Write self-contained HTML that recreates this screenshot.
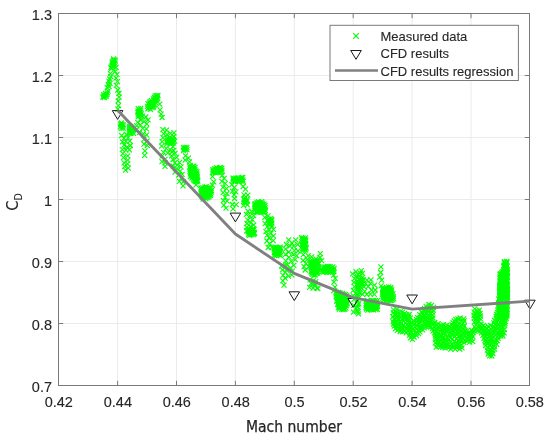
<!DOCTYPE html>
<html><head><meta charset="utf-8"><style>
html,body{margin:0;padding:0;background:#fff;}
body{width:550px;height:441px;overflow:hidden;position:relative;}
svg{position:absolute;left:0;top:0;}
text{font-family:"Liberation Sans",Arial,sans-serif;fill:#262626;}
.mk{fill:none;stroke:none;marker-start:url(#xm);marker-mid:url(#xm);marker-end:url(#xm);}
</style></head><body>
<svg width="550" height="441" viewBox="0 0 550 441">
<defs><marker id="xm" markerUnits="userSpaceOnUse" markerWidth="8" markerHeight="8" refX="4" refY="4" overflow="visible">
<path d="M1.5 1.5L6.5 6.5M1.5 6.5L6.5 1.5" stroke="#00ff00" stroke-width="1.1" fill="none"/></marker></defs>
<g stroke="#ebebeb" stroke-width="1">
<line x1="117.6" y1="13.5" x2="117.6" y2="385.5"/>
<line x1="176.5" y1="13.5" x2="176.5" y2="385.5"/>
<line x1="235.4" y1="13.5" x2="235.4" y2="385.5"/>
<line x1="294.3" y1="13.5" x2="294.3" y2="385.5"/>
<line x1="353.2" y1="13.5" x2="353.2" y2="385.5"/>
<line x1="412.1" y1="13.5" x2="412.1" y2="385.5"/>
<line x1="471.0" y1="13.5" x2="471.0" y2="385.5"/>
<line x1="58.5" y1="75.5" x2="529.5" y2="75.5"/>
<line x1="58.5" y1="137.5" x2="529.5" y2="137.5"/>
<line x1="58.5" y1="199.5" x2="529.5" y2="199.5"/>
<line x1="58.5" y1="261.5" x2="529.5" y2="261.5"/>
<line x1="58.5" y1="323.5" x2="529.5" y2="323.5"/>
</g>
<polyline class="mk" points="105.6,93.3 105,96.4 108,91.2 107.4,92.8 103.7,94.7 106.9,94.7 105.5,95 102.8,97.2 103.6,96.1 106.3,96.2 104.2,97.5 110,83.3 109.1,86.7 109.7,79.2 110.8,76.7 108.2,84.5 107.2,87.7 110.4,73.7 109,81.3 111.8,66.2 113.6,59 113.7,61.9 112.9,67.2 113.2,65.8 111.4,68.7 114.9,63.1 112.6,64.5 115.2,61.2 112.2,63.2 114.9,59.8 110.9,67.4 113.5,60.4 114.3,64.7 112.3,61.7 113.6,63.6 116.3,85.4 115.1,71.5 117.8,90 118.5,105.6 118.2,101 116.1,67.3 116,78.1 118.9,93.5 119.1,97.1 117,74.4 117.4,81.7 117.9,109.2 123.4,124.8 121.4,123 120.4,126.9 121.2,128.4 120.5,124.1 121.2,125.4 123,126.9 123.1,128.3 122.1,124.3 130.6,130.1 129.7,132.6 129.4,127.6 132.5,132.2 133.2,130.5 130.6,128.4 132.1,128 130.8,126.3 131.1,133 133.5,133.4 129.5,131 133.1,128.9 129.4,129 131.3,131.4 129.3,126.1 131.8,129.5 124.1,145.2 128.1,137.7 126,141.4 124.1,162.9 127.7,155.8 127.5,163.8 123.5,157.7 126.5,134.5 130.4,145.5 125.8,150.2 122.9,153.7 125.5,170.2 123.9,138.4 122.4,141.8 130.2,133.4 122.3,149.6 129.4,149.9 121.6,135.5 127.7,160.1 129.8,141.2 128.3,168.1 124.7,166.4 127.2,147 140.4,112.5 137.9,112.6 138.1,114.8 140.5,110.3 140.6,108.5 141.1,113.6 138.3,108.6 140.9,115.1 139.1,110.4 139.2,113.2 139.5,114.8 138,111.2 136.8,129.4 144.1,121.6 146.8,123.9 140.5,124.8 143.3,133.9 137.7,122.3 146.4,128.8 138.4,116.5 142.7,128.3 139.6,132.7 142.3,116.1 146.7,134.9 145.8,117 140.6,120 148.1,119.8 136.7,125.9 144,144.2 144.6,155.4 144.9,150.9 143.9,139.4 147.3,145.5 147,141.1 148.6,107.6 153.4,98.8 156.6,95.9 148.9,104.9 151,106.7 152.7,104.1 155,98.8 155.3,100.3 151.9,102.5 150.3,104.5 153.8,100.6 157.4,98.7 153.9,102.8 151.5,100.6 149.6,103 154.5,97.5 154.1,105.7 152.2,107.7 157.4,97.1 150.3,109.3 148,103.7 150.1,101.7 152.6,105.5 157.9,95.5 147.6,106.4 147.8,108.9 155.5,102.4 149.9,105.8 154.5,104.3 155.2,95.9 156.2,97.9 156.7,100 153.5,107 150.1,107.9 160.1,109.9 161.1,114.1 159.7,104.1 162.1,117.5 165,166.4 165.3,162.8 165,159.3 167.8,153.2 170.5,133.4 166.9,142 166.2,148.3 169.8,137.4 161.6,146.2 163.5,152.3 163,137.6 174.8,141.2 163.7,133.8 173.7,136.5 173,146.6 170.2,143.7 162.9,129.7 173.7,150.7 166.5,130.2 162.1,141.7 170.1,149.7 162.2,155.8 167.1,134.6 173.9,132.9 162,161.6 172.2,138.5 172,140.5 171.4,142.1 168.1,141.8 167.5,138.9 171.4,143.5 167.5,140.3 170.8,139 173.1,143 169.2,142.8 173.2,141.5 169,139.9 173.2,139.7 169.9,141 167.4,143.3 169,138.6 181.3,178.2 173.2,166.2 177.4,165.2 183,185.8 175.1,153.3 183.3,181.9 171.7,155.9 176.7,157.3 173,159.5 176.9,168.7 180.1,171.1 175.1,172 178.8,175 171.8,151.9 179.5,162.4 179.4,181.3 182.2,174.3 174.8,162.8 181,166.9 184,149.3 185.8,148.5 185.4,149.9 187,149.6 183.4,147.7 184.9,147.4 186.8,147.3 183.5,150.7 185.5,155.8 189.5,161.8 185.2,160.1 188.4,158.2 192.7,174.7 197,174.9 191.9,177.8 189.8,166.8 195.4,176.5 190.9,172.7 190.7,170 194.2,174.1 196,170.9 197,171.9 195.2,178.4 190,171.3 196.1,180.2 193.8,166.1 194.9,169.5 193.5,168.1 191.2,167.7 194.1,177.1 194.1,180.5 192.4,172.2 192.3,176.4 194.1,170.6 193.3,179.1 197.3,177 195,167.3 191.1,175 194.7,172.7 195.6,174.1 192.5,166.7 192,170.8 190.1,168.6 190.3,173.9 196.9,178.5 190.4,176.6 196.9,181.5 191.9,169.3 190.4,165.6 195.4,181.5 196.8,173.4 193.8,175.7 193.3,169.5 197.4,179.9 196,184.9 197.8,181.2 210.4,195.5 206.2,192.5 202.5,189.6 203.2,199.1 211.1,192 202.2,191.3 203.1,196.3 205.5,189.9 205.5,196.1 203.9,190.2 204.4,188.3 207.2,189.1 204.3,195.2 208.1,194.3 204.6,193.4 209.9,190.3 207.8,192.7 206.7,194.8 204,191.7 201.7,194.5 206.5,197.2 201.3,193 208.5,191.5 209.1,196.9 209.2,187.9 206.5,186.9 202.5,197.6 202.7,187.6 205.9,198.6 201,189.7 210.7,193.8 208.4,190.1 206.9,191 202.9,193.7 210.7,188.7 204.8,197.6 209,195.4 205,187 201,188 211.5,190.5 207.8,187.8 207.8,197.7 209.5,193 205.9,188.4 207.3,196.2 201.7,196 205.4,191.3 215.9,168.9 222,170.4 218.2,170.6 221.9,168.4 214.5,168.9 216.1,171.3 217.7,168.6 219.4,168 220.2,171.7 214.3,171.5 220.4,169.7 212.9,169.6 218.2,172.3 216.7,167.7 215,170.4 218.8,169.4 215.3,172.5 217,169.7 213.2,172.5 221.6,171.8 220.7,167.5 216.9,172.5 213,171 213.7,181.8 212.5,176.7 212.4,185.1 223.1,192.6 225.2,183.3 225.2,197.3 224.2,178.4 223.8,205.1 227.1,201.1 223,187.3 226.5,188.6 226,208.2 222.2,175.3 226.9,193.5 223.4,200.5 221.9,181.4 232.4,191.2 231.8,184.7 235.1,181.9 234.3,187.5 234.5,198.5 236.2,204.6 233,208.8 234.2,194.9 235.9,191.8 233.9,178.6 232.4,204.5 241.6,181.1 234.6,178.8 239.6,178.6 236.9,180.3 238.6,179.8 240.3,180.3 241.6,179 237.2,178.6 233.5,181.4 233,178.1 238.2,181.2 235.5,180.9 242.7,177.5 241.2,177.7 233.2,179.8 235.8,178.2 242.9,179.8 243.1,181.3 238.5,177.8 239.6,181.5"/>
<polyline class="mk" points="247.1,200.8 244,194.9 243.6,205.4 243.8,199.1 245.5,189.1 247.8,195.2 247.4,204.8 243.1,186.5 246.8,199.3 245.9,203 244.3,199.8 245,198.1 244.3,202.6 246,201.4 244.5,201.2 250,215.9 252.2,219.6 246.7,227.3 247.8,220.1 250.9,231.1 254,229.2 247.9,211.2 250.4,226.5 246.4,214.4 246.7,230.8 251.6,211.5 253.6,225 250.6,222.8 247,223.5 253.6,215.7 254.4,233.1 250.2,231.4 250.2,233.9 254.1,232.1 251.7,234.6 253.2,230.8 251.1,230.2 248.5,234.7 251.6,232.6 249,232.9 252.9,233.3 249.4,229.7 253.6,234.7 248.1,230.5 249.8,235.4 253.8,229.6 254.4,233.6 248,231.9 252.4,229.5 261.7,201.6 256.9,210.9 265.1,207.8 263.1,205.7 262.3,207.5 259.2,209.2 261,211.2 260.2,206.1 264.2,209.7 261.8,209.4 262.2,203.1 264.8,212 262.6,210.9 258.6,206 258.5,211 259.2,207.3 255.8,207 255.7,205 261.1,204 259.5,203.9 263.7,208.4 257.5,207 255.1,210.1 265,205.5 258.5,202 257.4,203.8 263.4,212.4 259.8,202.4 255.9,203.6 261.7,205.6 256.3,212.1 259.6,211.9 262,212.1 264,204.2 256.4,208.4 257.5,209.5 265.4,210.5 260.9,207.9 264.3,206.7 255,208.5 257.4,205.3 257,202.3 262.7,204.4 257.8,212.3 258.2,208.3 260.4,209.8 254.6,204.2 254.8,206.1 271.7,226.1 264.8,217.3 273.3,240.7 271,220.5 270.9,233.3 267.3,226.6 269.6,243.6 266,231.6 267.2,220.3 269.2,238 267.1,235.1 272,247.3 268,215.8 266.9,241 268.8,223.4 269.3,229.8 273.5,229.4 265.2,223.6 273.4,235.9 268.2,247.5 271.7,220.7 270.5,218.6 270.9,224.3 270,223.2 269.7,220.2 269.1,221.8 270.7,221.7 268.7,219.2 269.1,224.4 271.7,223.1 271.7,219.3 274.6,255.5 275.1,251.3 274,247.7 279.2,254.7 278.9,251.9 277.5,247.9 274.9,253.8 277.2,253 279,247.7 276.9,250.1 277.5,254.6 280,253.1 274.2,249.8 280.3,248.7 276.1,248.2 278.4,250 280.2,251.3 276.7,251.5 276.3,255.4 278.5,253.5 274.4,252.5 275.6,249.7 280.4,255.5 280.3,247.2 275.2,247.1 279.8,250 275.8,252.7 290.5,267.8 291.8,274.8 295.2,259.6 287.4,264.8 290,246.1 291.2,261.4 288.7,252 285.8,260.9 286.4,244.5 297.7,244.5 294.3,250.7 286.5,270 291.8,242.8 288.9,257.1 288.4,276.1 293.8,265.3 295.7,239.8 293.6,246.2 298,251 293.4,254.4 285.6,254.4 296.7,255.7 288.7,239.8 292.2,271.1 285.6,249.1 283,275.4 282.7,280.9 284,285.1 281.6,266 282.4,269.9 285.4,265.2 285.3,272.1 285.1,278.2 303.9,245.8 304.1,249.3 304.6,248 303.5,243.4 305.7,240 305.5,237.8 302.8,248.7 305.6,243.3 305.6,245 302.5,245.3 302.1,243.8 302.6,242.3 305.4,250 302,239.2 305.2,241.4 303.2,247.3 304.4,239.5 303.2,238.1 303,240.6 306.1,247.3 301.7,237.6 304,242.1 302.7,250.1 306,248.7 317,271.9 303.1,260.5 309.1,266.9 313.5,263.3 303.3,254.6 311.6,256.9 311.1,271.9 313.5,266.9 307.3,259.3 305.9,263.6 304,266.6 308.2,255.7 305.2,270 316,258.9 317.4,266.3 309.9,263.3 317,262.4 311.2,283.5 313.1,288.1 315,283.9 310.1,279.8 309.5,287.4 317,288.1 313.6,280.6 318.3,266.6 317.5,271.6 315.2,260.3 317.6,260.6 313.5,265.3 313.8,272.2 314,275.1 315.5,262.9 315.9,269.2 311.4,263.7 314.9,266.6 312.5,266.2 311.7,262.1 311.8,273.1 314.1,262.1 311.6,270.3 312,268.1 317.1,265.4 315.5,264.6 317.8,262.4 313.7,273.7 313.1,261.1 317,263.7 312.3,274.3 316.4,273.5 313.4,270.5 315,268.2 315.2,271.8 313.6,268.4 312.8,263.7 315.3,274.8 311.5,265.2 317.3,268 317.6,269.9 318.4,264 311,267.2 317.7,273.2 314.6,269.7 312.1,271.7 316.3,261.2 316.3,266.9 314.2,263.5 316.3,270.8 310.6,261.2 312.6,269.4 318.4,268.8 313.6,267 314.8,285.5 315.9,281.7 317.9,288.6 320,257.5 321.7,260.6 320.3,253.6 329.3,270.7 326.3,267.7 333.7,271.6 332.8,266.9 330.2,269.5 330.1,272.1 328.7,266.8 323.7,268.6 325.1,266.8 325.2,271.9 324.6,270.4 326.8,269.1 328.3,268.2 323.7,267.1 331.4,271.1 331,267.8 328.2,271.9 322.6,271.5 325.4,269 334.1,268.3 327.7,270.6 332.2,269.4 333.8,270 326.7,272.4 322.7,269.9 323.8,272.2 332.4,272.2 326.3,270.9 327.3,266.5 330.1,266.7 333.5,275.2 333.9,282.2 334.9,287.2 335.3,278.4 333.7,290.7 336.8,295.3 346.4,305.7 341.3,302.2 338.8,305.9 342,297.9 339.1,300 342.1,305.4 336.6,301.1 342.6,299.5 344.4,298.1 342.9,301.2 344,308.1 338.7,296.1 345.4,294.7 345.8,304.4 347,302.3 340,304.5 342.6,307.6 338.1,302.8 344.5,300.6 337.4,293.1 341,307.4 343,295.5 337.1,298.8 342.4,303.4 340,293 343.5,304.5 345.3,302.9 346.4,298.4 340,294.7 340.3,297.8 340.8,300.7 338.4,307.6 339.3,309.2 345.9,308.2 345.8,301 337.4,297.3 344.8,306.6 342.5,293.3 339.8,303.1 343.8,302.8 341.6,294.5 337.6,304.7 338.4,294.3 339.6,301.7 345.7,296.8 347,299.8 343.1,309.5 344.5,295.9 341.2,299.2 336.1,292.1 341.7,309.2 338.2,301.2 344,294.1 344.8,309.4 341,296.2 343.1,297.1 346.7,295.7 345.5,299.5 338.6,298.3 343.4,306.1 340.4,305.9 336.2,293.8 336.1,296.7 338.6,292.4 339.7,307 344.7,305.2 338.7,304 347.1,303.7 354.5,286.7 356.1,308.4 357.8,301 354,299.4 354.5,278.7 358.3,311.7 355.8,293.4"/>
<polyline class="mk" points="358.1,304.8 356.8,275.9 355.9,271.7 353.8,305.3 357.3,281.1 357.9,288.7 353.9,282.4 356.8,296.9 352.6,273.8 353.5,312.1 353.3,290.3 357.7,285.2 353.1,295.7 361,282.3 360.2,289.3 360,272.8 357.7,277.6 361,280.1 357.7,294.2 362.5,277.3 360.4,287 358,284 358.1,291.2 362.4,273.4 359.6,276.1 358.1,287 360.1,284.3 359.8,292.9 358.8,279.9 363.4,279.8 358.4,296.4 357.9,274.4 361.3,270.7 362.3,284.3 357.6,289.1 357.6,281.7 374.5,285.2 364.8,291.4 371.5,290 370.5,294.1 370.5,283.3 364.1,286.9 375.2,290 362.1,280.2 366.9,280.1 374.3,294.4 368.2,286.5 362.3,283.7 370.9,279.8 365.7,283.6 362.6,294.3 366.8,294.4 381.7,280.1 380.9,266.8 380.7,272.5 381.1,285.8 379.7,277.1 390.6,299 385,291.5 389.1,290.6 385.2,288.1 385.6,290.1 389,288.5 387.6,289 386.6,291 384.1,294.7 388.7,286.8 385.8,297.9 389.2,295.2 387,292.9 392.4,295.1 385,296 385.6,293.2 387.4,299.3 392.1,297.7 388,296.8 391.5,291.2 391,296.8 389.9,297.7 392.9,299.6 383.8,288.3 384.8,299.4 386.7,294.2 383.7,290.3 390,292.1 383.1,296.1 384.5,297.4 391.4,292.8 390.3,294.2 386.6,287.5 382.7,293 388.2,294.1 383.3,300.1 388.8,299 390.6,288.8 393.3,296.6 382.9,298.4 386.4,295.7 388,291.8 383,291.6 390.9,287.4 392.9,293.7 382.6,294.4 390.3,300.5 386.4,300.3 391.6,289.8 384.2,293 393.5,298.4 382.5,289 387.3,298 388.8,300.4 391.7,300.3 387.8,295.4 389,292.9 369.9,301.3 366.3,303.5 375.4,307.3 368.2,301.7 375.1,302.4 366.9,306.1 375.8,309.4 374.2,308.4 370.8,305.6 368.7,303.2 366.3,309 377,304.8 371.3,302.2 372.2,303.6 368.6,308.4 371.7,309.5 370.3,309.6 370.7,308.2 377.3,300.6 372.3,300.6 373.4,309.8 371.6,306.8 377.5,306.4 374.8,304.4 374.5,306.2 373,307.1 375.2,300.6 368.2,307 370.7,304.2 373.1,301.9 366.2,307.4 369.8,306.7 376.6,302.2 368.5,304.8 376.8,307.9 367.7,310.2 373.2,305.7 377.2,309.3 366.4,301.3 376,305.8 367.6,300.5 373.4,304.2 376,303.5 372,305.1 372.8,308.5 377.5,303.4 366.1,305 370.1,302.7 373.7,300.6 357.6,307 358.5,313.8 358.8,303.7 357.3,300.1 357,310.5 458,318.9 400.2,331.5 464.5,340.2 422.7,314 425.5,313.3 437.5,335.8 457,321.3 481.2,324.1 476,324.8 416.1,333.4 476.4,318.6 498,320.5 429,321.8 416.3,321.9 489,336.9 504.8,306.4 500.3,280.2 488.7,330.6 498.1,338.3 490.8,352.3 480.2,313.4 452.4,338.8 463.2,323.3 452.5,344.8 455.4,333.7 459.2,332.6 436.8,331.7 438.6,346.2 404.6,330.9 476.9,310.6 439.8,330.9 404.4,318.6 419.1,320.1 400.1,317.6 425.2,324.6 484,338.3 505.9,300.8 486.9,338 441,340.1 492.7,342.3 474.3,322.1 438.1,323.6 408.1,329.7 504.6,283.3 442.7,341.8 394.3,314.7 454.3,341.5 422.5,321.4 454.3,321 455.4,344.7 481.3,326.7 447.1,344 461.2,321 479.3,310.2 435,329.8 492.4,333.9 394.2,326.2 467.9,335.4 415,327.1 446.9,331.2 507.3,293.4 447.4,337.6 490.5,349.6 479.9,331.2 412.3,323.1 458.9,335.9 398.7,328.7 432.5,315.2 421.5,312 411.6,335.9 414.1,330.2 404.6,313.3 462,347.9 491.1,329.1 443.7,328.8 398.4,319.2 428.1,317.8 460.6,327.3 407.7,318.5 458.1,340.7 471.8,334.4 426,319.2 496.4,322.4 401.4,315.6 488.4,343.1 413.1,334.2 499.8,313.2 431.9,320.1 443.3,324.6 465.1,330.7 449.1,326 400.4,321.2 504.3,275.9 437.6,338.6 428.8,307.2 471.5,338.3 409.2,314.5 410.4,318.2 479,321.3 497.5,326.1 500.6,302.1 499.3,316.2 440.7,344.5 459.9,330.2 417.9,330.7 478.6,327.4 434,326.8 450.5,342.3 498.6,335.5 416.8,325.5 420.1,329.1 502.4,274.5 396.3,325.3 408.8,326.5 504.4,312.5 432.5,312.2 461.4,324.6 503.5,279.6 411.2,326.7 504.8,325.6 439.4,342.1 430.6,327.1 456.4,338.8 505.4,291.8 449.2,330 506.6,309.2 445.3,327 500.3,326.7 488.1,326.4 475.7,329 420.2,323.2 462.4,331.2 500.3,322.1 451.7,335.2 497.7,333 394,319.1 441.1,335.5 435.6,337.2 425.8,310.5 421.9,325.1 424.2,327.9 505.5,303.8 451.5,328 456.8,347.6 490.4,338.9 448.8,340.2 403.7,321.1 503.1,292.7 462.7,338.3 467.3,338.4 504.7,289 492.4,347.3 498.7,307.1 502.4,308.5 436.2,347.1 484.1,333 459.3,346.5 434.5,332.9 489.9,345.8 489.6,355.9 410.9,330.8 501.1,276.4 500.3,309.2 504.3,329.5 453.8,331.8 492.9,339.9 503.5,296.7 494.4,344.4 403.3,325.2 494.5,320.4 485.7,342.8 432.1,323.1 501.2,299 431,313.8 429.1,312 504.2,266.4 458.4,328.4 404.7,327.4 502.3,316.6 475.7,313.9 481.3,329 485.6,345.5 435.3,342.9 496,316.4 409.5,321.3 472.7,336.5 487.2,328.5 501.2,306.4 450,337 489.5,341.2 502,329.7 463.5,333.5 506.5,268.6 400.4,311.6 402,329.3 478.7,317.4 505.3,321.3 449.2,334.3 442.9,326.7 445.8,334.5 409.9,332.8 395.7,317.8 503,336.1 502,284.3 491,335.8 431.4,305.5 492.2,331.7 505.9,263.9 467,341 460.3,339 423.7,318.7 474.2,312.2 457.1,325.4 460.9,341.7 437.1,341.7 416.5,335.7 495.9,330.2 450.8,349.2 469,332 484.7,327.4 507.2,287 455.4,323.3 463.8,342.3 455.6,330.2 501,289.4 452.1,324.7 495.6,339.3 466.2,333.4 506.8,266.4 450.9,332.8 413.6,320.6 395.2,322.4"/>
<polyline class="mk" points="502.9,281.7 446.5,341.2 412.4,339.3 487.6,347.4 393.6,309.9 437.6,329.2 505.6,316.3 426.4,321.5 506.5,296.3 485,340.7 493.8,322.9 444.4,345.7 490.7,343.8 499.6,291.9 457.6,334.1 428.7,315 485.2,336 494.5,349.2 501.2,294.5 505.6,279.8 505.2,271.8 500.6,317.9 464.4,326 439.7,328.1 402.6,331.8 503.8,301.6 426.1,306.3 399,315.2 500.3,296.5 448.2,347.7 405.6,323.1 463.3,328.8 504.1,332.8 402.2,319.2 396.9,311.9 469.6,339.4 434.8,322.5 463.7,318.8 497.9,328.4 437.2,344.1 400.4,325.5 476.7,321.6 493.4,337.2 452.1,346.9 477.5,330.9 501.7,286.7 461.5,345.2 422.6,329.9 442.8,347.4 450.1,346 503.4,314.8 395.4,328.8 486.4,332.2 420.1,317.4 501.6,324 495.4,324.5 428.2,326.5 497.4,340.6 487.3,350.2 506.2,318.7 405.9,316.9 419.8,331.8 454.9,336.2 441.2,325.3 454.8,326.1 497.6,312.5 504.5,261.7 427.3,324.4 495.7,335 493.3,326.6 507,274.4 414.1,337 465,336.6 492.8,353.5 498.5,305 432.6,328.6 474.3,318 402.5,312.1 488.3,354 426.1,317 473,332.5 494.5,333 482.9,335.4 485.2,330.3 422.4,316.9 428.9,304.5 495,342.2 443.8,333.5 506.5,314.1 429.7,319.5 419.5,326.5 507.1,289.8 459.7,349.1 457.1,343.1 498.4,324 424.4,308.3 441.8,332.7 496.8,344.4 479.1,325 480.4,318.8 461.2,334.6 498.8,299 431.3,308.7 440.4,337.5 438.2,326.5 502.1,334 393.6,324 458.6,323.7 398.4,324 474.8,326.9 407.1,324.8 489.5,333.3 474.1,315.5 507,284.3 469.7,342.2 443.7,331 443.5,336.8 503.9,269.6 502.7,271.9 502.1,311.4 443.1,339 421.9,327.5 433.2,310.1 472.8,341.7 472,330.4 502.4,327.1 481.5,332.8 429,309.6 446.6,346.2 490.6,325.5 409.8,323.9 495.1,327.6 482.8,330.9 414.6,324.1 397.4,321.5 430.5,317.1 455.1,349.2 406.2,332.8 504.1,318 505.1,286.4 492.7,350.6 416.5,319.7 478.3,314.5 406.7,314.6 474.7,308.8 444.9,342.5 506.8,261.5 460.1,318 423.7,311.1 446.8,325.3 506.9,298.8 493.8,329.8 502.2,319.5 499.2,330.8 470.2,336.4 402.2,327.1 498.4,302.8 504.5,298.7 426,326.6 474.6,330.8 487.5,334.3 500,285.4 457.8,330.9 506.9,276.6 433.5,307.4 429.5,324 445.6,339 448,328.1 435.7,339.5 445.2,347.9 487.2,341.2 496.5,314.3 442.9,344.1 507.1,281.9 436.1,325.4 438.1,333.6 396.9,309.4 491.8,356 499.7,287.6 419.7,314.7 427,308.4 396.6,314.5 503.2,304.3 505,323.5 393.3,312.7 417.6,317.7 500,283.2 497.8,310.1 501.6,331.8 407.4,321 502.6,321.7 505.1,294.6 433.4,324.7 412.2,329.1 424.4,315.5 464.1,320.9 496.3,318.6 424.3,322.5 500.8,336.2 432.9,318 494.4,346.6 451.9,330.7 392.8,316.6 441.8,329.9 480.4,316 483.6,325.3 401.1,323.4 456.3,327.8 478.2,312.3 397.3,330.3 504.4,310.1 453.8,328.1 454.7,346.7 476.7,316.5 459.3,343.8 488.6,351.9 500.3,273.9 393.1,321.8 435.3,335 467.3,330.7 416.9,328.8 506.9,305.7 461.1,336.7 452.9,322.7 410,328.8 440.6,346.9 500,333.6 506.3,311.4 397,327.3 507.3,272.2 455.8,319.4 406.9,327.8 397.8,317.1 409.6,335.2 418.5,333.6 421.2,319.7 433.1,330.8 469.6,334.1 410.4,337.9 417.9,323.6 408.7,316.6 403.8,316.2 498.5,318.4 505.2,280.8 499.7,300.6 500.5,278.3 499.7,285.1 505.5,277.6 502.2,316 506.3,275.3 500.5,282.4 507.1,299.1 505.3,266.1 503.2,310.4 504.6,307.2 501.8,300 507.1,309.6 500.4,316.8 501.2,303.4 502.6,298.5 502.1,285.7 506.1,294.1 506.1,271 501,275.6 503.6,285.9 502.6,304.2 501.5,307.8 507.3,284.2 504.5,294.6 504,301.5 504.5,284.7 501.7,281.5 506.6,281.9 505.9,284 499.9,308.9 504.5,291.7 501.7,293.9 499.5,314.5 499.7,307.4 502.4,306.2 505.2,285.9 502.9,302.6 507.4,276.2 503.9,317.2 503.1,279.3 503.8,313.5 501.4,291.1 506.8,290.4 504.4,273.1 505.7,313.7 507,315.9 504.5,296.8 502.5,278 506.1,296.7 507,303.6 501.7,311.4 504.3,303.7 500.3,298.7 503.8,293.4 500.8,306.4 502.3,282.7 504,275.1 505.8,317 505.4,309.5 501.6,288.1 506.3,264.4 506.2,287.7 503.7,282 504.8,270.5 505.6,262.8 500.8,296.2 502.8,284 504.1,289.4 504,315.8 501,314.8 507.3,273.2 504.4,276.6 507,312.6 506.2,268.7 507.1,280.5 506.6,279.1 500.2,288.5 502.5,313.6 499.7,291.6 506.4,307.9 504.8,305.1 505.7,301.2 504.8,298.6 501.3,273.9 504.9,311.1 505.2,282.4 503.8,299.7 506.2,267.3 501.4,301.9 499.6,313 499.9,311.3 505.7,315.4 499.8,295.2 501.5,309.2 507.4,285.8 499.8,286.7 500.3,280.8 502.5,276.1 499.8,293.6 501.8,297.3 499.7,305.4 502.7,291.1 500.6,283.9 507.3,301.9 507.4,294.6 507.3,291.7 503.1,308.2 503.3,295.3 506.6,266 503.5,271.3 506.3,305.3 499.8,297.1 504.8,268.1 503.1,287.8 499.9,277 507.4,289 501.4,305 506,302.6 504.5,287.2 506.6,311.2 503.1,273.7 503.3,280.7 499.5,303.4 501.1,289.7 506.9,262.3 504.1,283.3 505.8,272.9 507.2,293.1 504.5,279.3 504.6,264.2 502.3,317.4 507.4,271.6 503.1,312.1 507.2,277.7 501.9,272.6 501.2,312.8 505.3,293 505.9,291.4 499.9,302 500.8,292.4 507.2,269.6 503.8,267 507,306.6 504,309.2 499.7,290 505.5,289.4 501.7,280.1 507,314 507.3,297.5 502.5,292.6 503.9,269.4 501.9,295.3 502.6,289.6 505.6,299.7 505.1,274.3"/>
<polyline class="mk" points="504.9,312.6 503.1,296.7 501.3,277.2 507.3,300.5 503.7,305.9 501.3,286.8 507.3,296 504.3,262.3 500,274.5 504,265.6 502.7,301 505.7,304 503.9,277.9"/>
<path d="M112.3 110.6h10.6l-5.3 8.8zM230.1 213.1h10.6l-5.3 8.8zM289.0 291.8h10.6l-5.3 8.8zM347.9 298.5h10.6l-5.3 8.8zM406.8 295.0h10.6l-5.3 8.8zM524.6 300.2h10.6l-5.3 8.8z" fill="none" stroke="#1a1a1a" stroke-width="1"/>
<polyline points="117.6,110.3 235.4,234.0 294.3,273.4 353.2,297.6 412.1,309.1 529.9,301.1" fill="none" stroke="#808080" stroke-width="2.9" stroke-linejoin="round"/>
<rect x="58.5" y="13.5" width="471.0" height="372.0" fill="none" stroke="#7a7a7a" stroke-width="1"/>
<path d="M58.5 385.5v-4.7M58.5 13.5v4.7M117.6 385.5v-4.7M117.6 13.5v4.7M176.5 385.5v-4.7M176.5 13.5v4.7M235.4 385.5v-4.7M235.4 13.5v4.7M294.3 385.5v-4.7M294.3 13.5v4.7M353.2 385.5v-4.7M353.2 13.5v4.7M412.1 385.5v-4.7M412.1 13.5v4.7M471.0 385.5v-4.7M471.0 13.5v4.7M529.5 385.5v-4.7M529.5 13.5v4.7M58.5 13.5h4.7M529.5 13.5h-4.7M58.5 75.5h4.7M529.5 75.5h-4.7M58.5 137.5h4.7M529.5 137.5h-4.7M58.5 199.5h4.7M529.5 199.5h-4.7M58.5 261.5h4.7M529.5 261.5h-4.7M58.5 323.5h4.7M529.5 323.5h-4.7M58.5 385.5h4.7M529.5 385.5h-4.7" stroke="#7a7a7a" stroke-width="1" fill="none"/>
<g font-size="14.5" stroke="#262626" stroke-width="0.12">
<text x="58.8" y="406.5" text-anchor="middle">0.42</text>
<text x="117.89999999999999" y="406.5" text-anchor="middle">0.44</text>
<text x="176.8" y="406.5" text-anchor="middle">0.46</text>
<text x="235.70000000000002" y="406.5" text-anchor="middle">0.48</text>
<text x="294.6" y="406.5" text-anchor="middle">0.5</text>
<text x="353.5" y="406.5" text-anchor="middle">0.52</text>
<text x="412.40000000000003" y="406.5" text-anchor="middle">0.54</text>
<text x="471.3" y="406.5" text-anchor="middle">0.56</text>
<text x="529.8" y="406.5" text-anchor="middle">0.58</text>
<text x="52" y="19.7" text-anchor="end">1.3</text>
<text x="52" y="81.7" text-anchor="end">1.2</text>
<text x="52" y="143.7" text-anchor="end">1.1</text>
<text x="52" y="205.7" text-anchor="end">1</text>
<text x="52" y="267.7" text-anchor="end">0.9</text>
<text x="52" y="329.7" text-anchor="end">0.8</text>
<text x="52" y="391.7" text-anchor="end">0.7</text>
</g>
<text x="294" y="432" text-anchor="middle" font-size="15.5" style="font-family:'DejaVu Sans Condensed','DejaVu Sans',sans-serif" stroke="#262626" stroke-width="0.25">Mach number</text>
<text transform="translate(18.3,202) rotate(-90)" text-anchor="middle" font-size="16.4" style="font-family:'DejaVu Sans Condensed','DejaVu Sans',sans-serif" stroke="#262626" stroke-width="0.1">C<tspan font-size="10.5" dy="3.3">D</tspan></text>
<rect x="330" y="25.3" width="188.4" height="55.2" fill="#fff" stroke="#7a7a7a" stroke-width="1"/>
<path d="M353.2 33.2l5.6 5.6M353.2 38.8l5.6 -5.6" stroke="#00ff00" stroke-width="1.1"/>
<path d="M350.7 50.5h10.6l-5.3 8.8z" fill="none" stroke="#1a1a1a" stroke-width="1"/>
<line x1="335" y1="70.5" x2="378" y2="70.5" stroke="#808080" stroke-width="2.6"/>
<g font-size="13" stroke="#262626" stroke-width="0.1">
<text x="380.5" y="41.1">Measured data</text>
<text x="380.5" y="58.3">CFD results</text>
<text x="380.5" y="75.5">CFD results regression</text>
</g>
</svg>
</body></html>
